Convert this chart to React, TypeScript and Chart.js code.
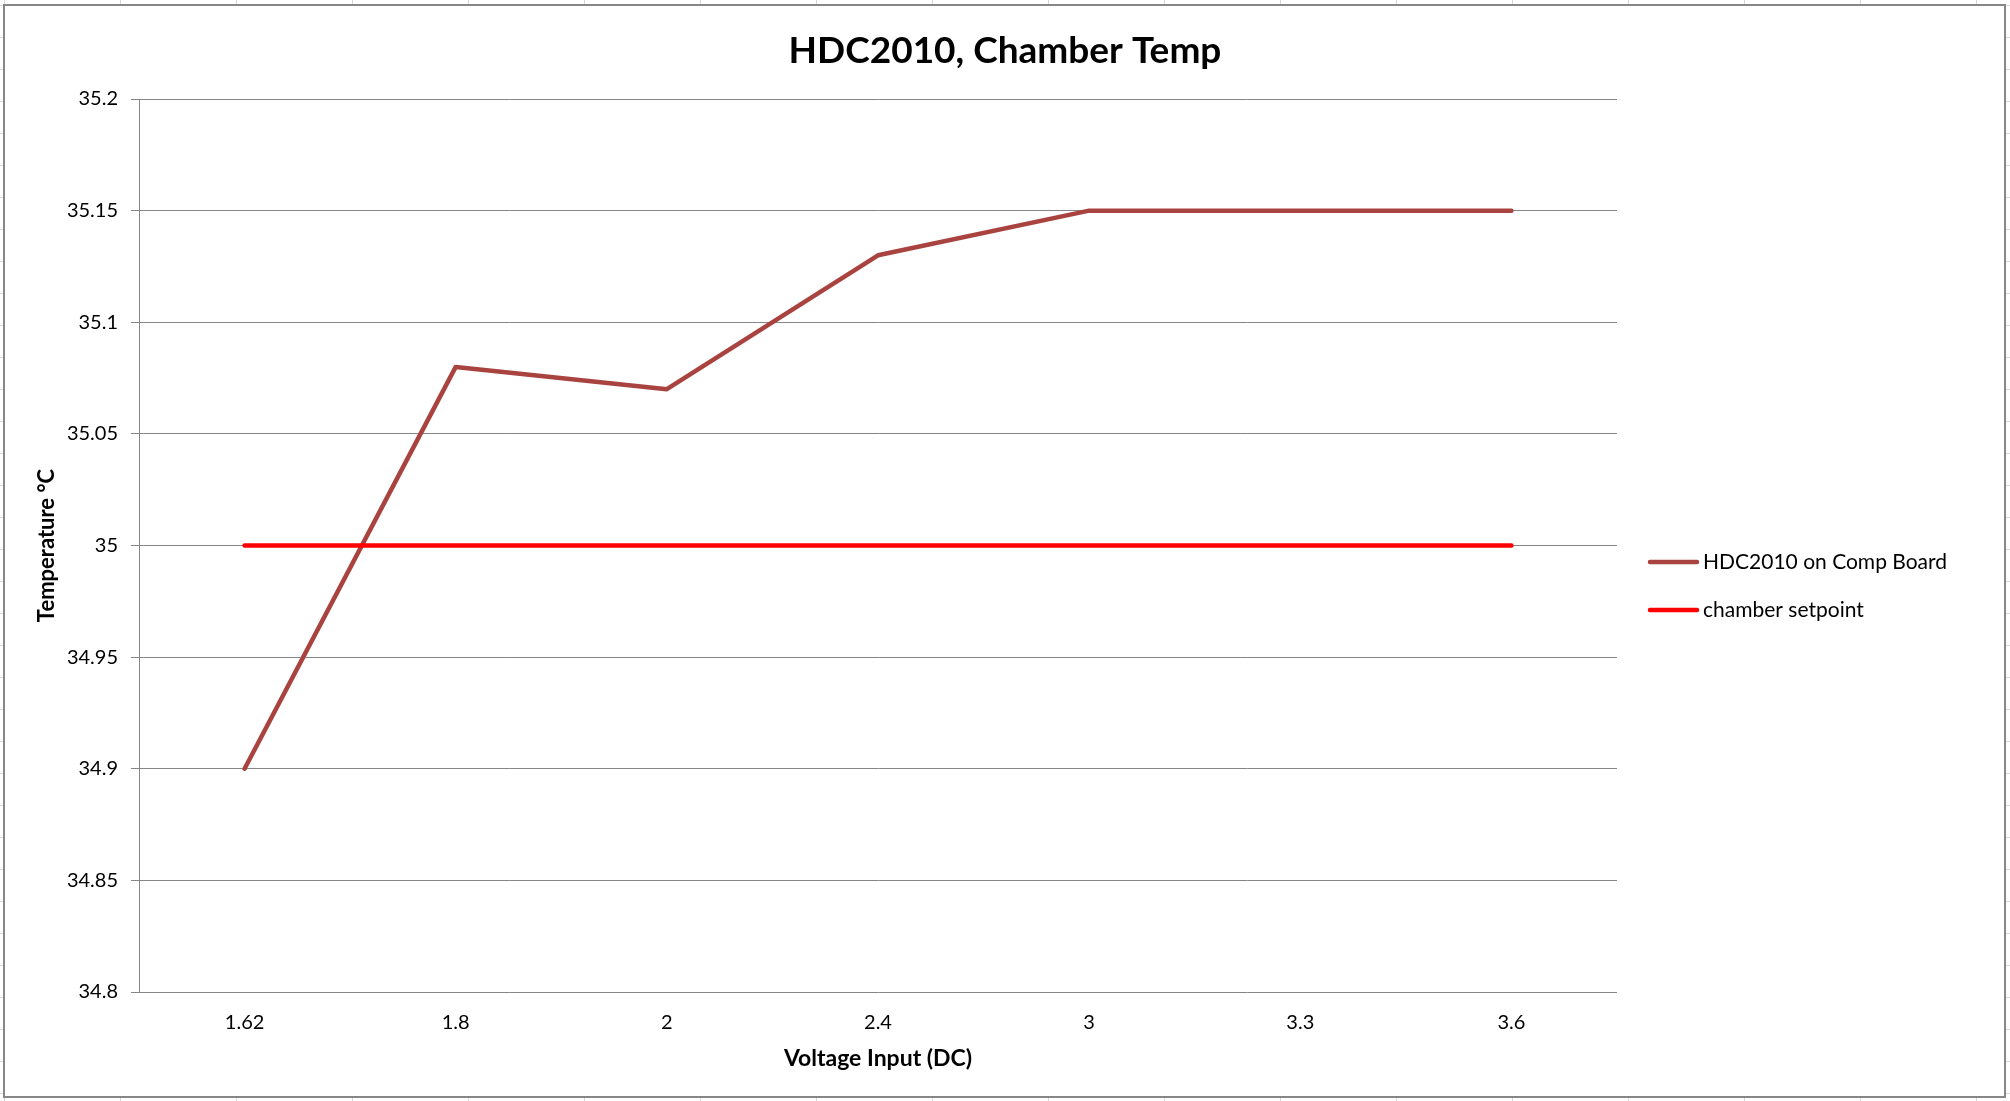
import React, { useEffect, useRef } from "react";
import { Chart, registerables } from "chart.js";

Chart.register(...registerables);

// ---- data ----
const categories: string[] = ["1.62", "1.8", "2", "2.4", "3", "3.3", "3.6"];
const hdcValues: number[] = [34.9, 35.08, 35.07, 35.13, 35.15, 35.15, 35.15];
const setpointValues: number[] = [35, 35, 35, 35, 35, 35, 35];
const yTicks: number[] = [34.8, 34.85, 34.9, 34.95, 35, 35.05, 35.1, 35.15, 35.2];
const seriesNames: string[] = ["HDC2010 on Comp Board", "chamber setpoint"];
const titleText = "HDC2010, Chamber Temp";
const xTitle = "Voltage Input (DC)";
const yTitle = "Temperature °C";

const W = 2010;
const H = 1101;
const FONT = "Lato, 'Noto Sans', sans-serif";

const legendPlugin = {
  id: "excelLegend",
  afterDraw(chart: any) {
    const { ctx, chartArea } = chart;
    const x0 = chartArea.right + 33;
    const rows = [chartArea.top + 463, chartArea.top + 511];
    ctx.save();
    chart.data.datasets.forEach((ds: any, i: number) => {
      const y = rows[i];
      ctx.beginPath();
      ctx.strokeStyle = ds.borderColor;
      ctx.lineWidth = 4.5;
      ctx.lineCap = "round";
      ctx.moveTo(x0, y);
      ctx.lineTo(x0 + 47, y);
      ctx.stroke();
      ctx.fillStyle = "#000";
      ctx.font = `21px ${FONT}`;
      ctx.textBaseline = "middle";
      ctx.textAlign = "left";
      ctx.fillText(ds.label, x0 + 53, y);
    });
    ctx.restore();
  },
};

export default function App() {
  const ref = useRef<HTMLCanvasElement | null>(null);

  useEffect(() => {
    document.body.style.margin = "0";
    if (!ref.current) return;
    const chart = new Chart(ref.current, {
      type: "line",
      data: {
        labels: categories,
        datasets: [
          {
            label: seriesNames[0],
            data: hdcValues,
            borderColor: "#A9433F",
            backgroundColor: "#A9433F",
            borderWidth: 4.5,
            borderCapStyle: "round",
            borderJoinStyle: "round",
            pointRadius: 0,
            tension: 0,
            order: 1,
          },
          {
            label: seriesNames[1],
            data: setpointValues,
            borderColor: "#FF0000",
            backgroundColor: "#FF0000",
            borderWidth: 4.5,
            borderCapStyle: "round",
            borderJoinStyle: "round",
            pointRadius: 0,
            tension: 0,
            order: 0,
          },
        ],
      },
      options: {
        responsive: false,
        animation: false,
        events: [],
        layout: {
          autoPadding: false,
          padding: { left: 0, top: 0, right: 0, bottom: 0 },
        },
        plugins: {
          legend: { display: false },
          tooltip: { enabled: false },
          title: {
            display: true,
            text: titleText,
            color: "#000",
            font: { family: FONT, weight: "bold", size: 37, lineHeight: 1.2 },
            padding: { top: 29, bottom: 25.6 },
          },
        },
        scales: {
          x: {
            type: "category",
            offset: true,
            grid: { display: false, drawTicks: false },
            border: { display: false },
            ticks: {
              color: "#000",
              font: { family: FONT, size: 20 },
              padding: 19,
              maxRotation: 0,
              autoSkip: false,
            },
            title: {
              display: true,
              text: xTitle,
              color: "#000",
              font: { family: FONT, weight: "bold", size: 23, lineHeight: 1.2 },
              padding: { top: 0, bottom: 29 },
            },
            afterFit: (s: any) => {
              s.height = 109;
            },
          },
          y: {
            type: "linear",
            min: yTicks[0],
            max: yTicks[yTicks.length - 1],
            afterBuildTicks: (s: any) => {
              s.ticks = yTicks.map((v) => ({ value: v }));
            },
            grid: {
              color: "#868686",
              lineWidth: 1,
              drawTicks: true,
              tickLength: 8,
              tickColor: "#868686",
            },
            border: { display: true, color: "#868686", width: 1 },
            ticks: {
              color: "#000",
              font: { family: FONT, size: 20 },
              padding: 13,
              callback: (v: any) => String(parseFloat(Number(v).toFixed(2))),
            },
            title: {
              display: true,
              text: yTitle,
              color: "#000",
              font: { family: FONT, weight: "bold", size: 22, lineHeight: 1.2 },
              padding: { top: 34, bottom: 0 },
            },
            afterFit: (s: any) => {
              s.width = 139;
            },
          },
          // invisible right-hand axis reserving the legend column
          legendSpace: {
            type: "linear",
            position: "right",
            display: true,
            grid: { display: false, drawTicks: false },
            border: { display: false },
            ticks: { display: false },
            afterFit: (s: any) => {
              s.width = 393;
            },
          },
        },
      },
      plugins: [legendPlugin],
    } as any);
    return () => chart.destroy();
  }, []);

  return (
    <div
      style={{
        position: "fixed",
        left: 0,
        top: 0,
        width: W,
        height: H,
        overflow: "hidden",
        backgroundColor: "#fff",
        backgroundImage:
          "linear-gradient(to right, #d9d9d9 1px, transparent 1px), linear-gradient(to bottom, #d9d9d9 1px, transparent 1px)",
        backgroundSize: "116px 100%, 100% 32px",
        backgroundPosition: "120px 0, 0 37px",
      }}
    >
      <div
        style={{
          position: "absolute",
          left: 3,
          top: 4,
          width: 1999,
          height: 1090,
          border: "2px solid #878787",
          background: "#fff",
        }}
      />
      <canvas
        ref={ref}
        width={W}
        height={H}
        style={{ position: "absolute", left: 0, top: 0, width: W, height: H }}
      />
    </div>
  );
}
